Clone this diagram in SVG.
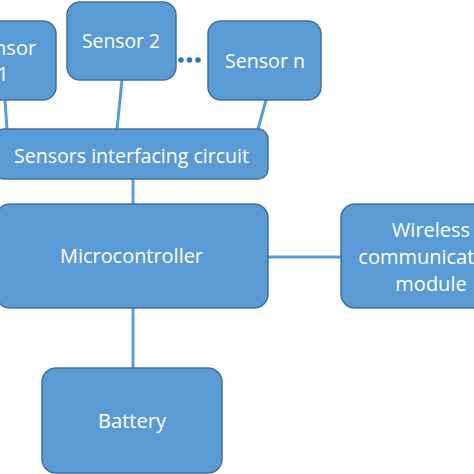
<svg xmlns="http://www.w3.org/2000/svg" width="474" height="474" viewBox="0 0 474 474">
<style>
.box{fill:#5b9bd5;stroke:#41719c;stroke-width:1.5}
.lbl{fill:#ffffff;font-family:"Open Sans","Liberation Sans",sans-serif;font-size:20px;text-anchor:middle}
.conn line{stroke:#5b9bd5;stroke-width:3}
</style>
<rect width="474" height="474" fill="#ffffff"/>
<g id="connectors" class="conn">
<line x1="5" y1="100" x2="7" y2="129"/>
<line x1="122" y1="80" x2="117" y2="129"/>
<line x1="266" y1="100" x2="258" y2="129"/>
<line x1="133" y1="179" x2="133" y2="205"/>
<line x1="268" y1="257" x2="341" y2="257"/>
<line x1="133" y1="308" x2="133" y2="368"/>
</g>
<g id="sensor1">
<rect class="box" x="-50" y="21" width="106" height="79" rx="13"/>
<text class="lbl" x="4" y="55">Sensor</text>
<text class="lbl" x="3" y="81">1</text>
</g>
<g id="sensor2">
<rect class="box" x="67" y="2" width="109" height="78" rx="13"/>
<text class="lbl" x="121" y="48" textLength="78" lengthAdjust="spacingAndGlyphs">Sensor 2</text>
</g>
<g id="dots" fill="#2e75b6">
<circle cx="181" cy="60" r="2.8"/>
<circle cx="189.5" cy="60" r="2.8"/>
<circle cx="198" cy="60" r="2.8"/>
</g>
<g id="sensorn">
<rect class="box" x="208" y="21" width="113" height="79" rx="13"/>
<text class="lbl" x="265" y="68" textLength="80" lengthAdjust="spacingAndGlyphs">Sensor n</text>
</g>
<g id="interface">
<rect class="box" x="-6" y="129" width="274" height="50" rx="10"/>
<text class="lbl" x="131.5" y="163" textLength="235" lengthAdjust="spacingAndGlyphs">Sensors interfacing circuit</text>
</g>
<g id="microcontroller">
<rect class="box" x="-4" y="204" width="272" height="104" rx="14"/>
<text class="lbl" x="131.5" y="263" textLength="143" lengthAdjust="spacingAndGlyphs">Microcontroller</text>
</g>
<g id="wireless">
<rect class="box" x="341" y="204" width="180" height="104" rx="14"/>
<text class="lbl" x="431" y="237">Wireless</text>
<text class="lbl" x="431" y="264">communication</text>
<text class="lbl" x="431" y="291">module</text>
</g>
<g id="battery">
<rect class="box" x="42" y="368" width="180" height="105" rx="14"/>
<text class="lbl" x="132" y="428" textLength="68" lengthAdjust="spacingAndGlyphs">Battery</text>
</g>
</svg>
